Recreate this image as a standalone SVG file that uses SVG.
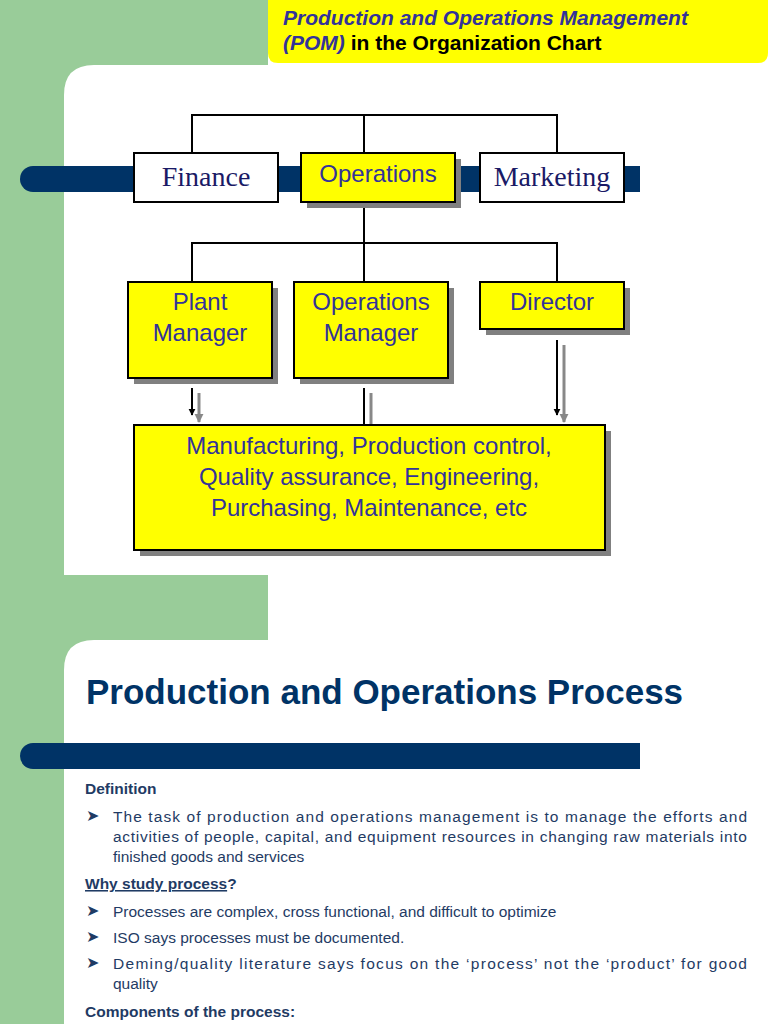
<svg xmlns="http://www.w3.org/2000/svg" width="768" height="1024" viewBox="0 0 768 1024">
<style>
.box{stroke:#000;stroke-width:2}
.y{fill:#ffff00}
.w{fill:#fff}
.sh{fill:#808080}
.ln{stroke:#000;stroke-width:2;fill:none}
.gl{stroke:#888;stroke-width:3;fill:none}
.t{font-family:"Liberation Sans",Arial,sans-serif;fill:#333399;font-size:24px;text-anchor:middle}
.s{font-family:"Liberation Serif","Times New Roman",serif;fill:#1a1a66;font-size:28px;text-anchor:middle}
.b{font-family:"Liberation Sans",Arial,sans-serif;fill:#1f3b64;font-size:15.5px}
.bh{font-weight:bold}
</style>
<defs>
<marker id="ab" viewBox="0 0 10 10" refX="9" refY="5" markerWidth="3.5" markerHeight="4" orient="auto"><path d="M0,0L10,5L0,10z" fill="#000"/></marker>
<marker id="ag" viewBox="0 0 10 10" refX="9" refY="5" markerWidth="3" markerHeight="3.5" orient="auto"><path d="M0,0L10,5L0,10z" fill="#888"/></marker>
</defs>
<rect width="768" height="1024" fill="#fff"/>
<g id="background">
<rect x="0" y="0" width="64" height="1024" fill="#99cc99"/>
<rect x="0" y="0" width="268" height="100" fill="#99cc99"/>
<rect x="0" y="560" width="268" height="110" fill="#99cc99"/>
<path d="M64,95 Q64,65 94,65 L768,65 L768,575 L64,575 Z" fill="#fff"/>
<path d="M64,670 Q64,640 94,640 L768,640 L768,1024 L64,1024 Z" fill="#fff"/>
<path d="M268,0 L768,0 L768,53 Q768,63 758,63 L278,63 Q268,63 268,53 Z" fill="#ffff00"/>
<path d="M33,166 L640,166 L640,192 L33,192 A13,13 0 0 1 33,166 Z" fill="#003366"/>
<path d="M33,743 L640,743 L640,769 L33,769 A13,13 0 0 1 33,743 Z" fill="#003366"/>
</g>
<g id="title">
<text x="283" y="25" font-family="Liberation Sans,Arial,sans-serif" font-size="21" font-weight="bold" font-style="italic" fill="#333399">Production and Operations Management</text>
<text x="283" y="50" font-family="Liberation Sans,Arial,sans-serif" font-size="21" font-weight="bold" fill="#000"><tspan font-style="italic" fill="#333399">(POM)</tspan> in the Organization Chart</text>
</g>
<g id="connectors">
<path class="ln" d="M192,153 V115 H557 V153 M364,115 V153"/>
<path class="ln" d="M364,202 V282 M192,282 V243 H557 V282"/>
<line class="ln" x1="192" y1="388" x2="192" y2="415" marker-end="url(#ab)"/>
<line class="gl" x1="199" y1="393" x2="199" y2="422" marker-end="url(#ag)"/>
<line class="ln" x1="364" y1="388" x2="364" y2="425"/>
<line class="gl" x1="371" y1="393" x2="371" y2="425"/>
<line class="ln" x1="557" y1="340" x2="557" y2="415" marker-end="url(#ab)"/>
<line class="gl" x1="564" y1="345" x2="564" y2="422" marker-end="url(#ag)"/>
</g>
<g id="finance"><rect class="box w" x="134" y="153" width="144" height="49"/><text class="s" x="206" y="186">Finance</text></g>
<g id="operations"><rect class="sh" x="307" y="159" width="154" height="49"/><rect class="box y" x="301" y="153" width="154" height="49"/><text class="t" x="378" y="182">Operations</text></g>
<g id="marketing"><rect class="box w" x="480" y="153" width="144" height="49"/><text class="s" x="552" y="186">Marketing</text></g>
<g id="plant"><rect class="sh" x="134" y="288" width="144" height="96"/><rect class="box y" x="128" y="282" width="144" height="96"/><text class="t" x="200" y="310">Plant</text><text class="t" x="200" y="341">Manager</text></g>
<g id="opsmgr"><rect class="sh" x="300" y="288" width="154" height="96"/><rect class="box y" x="294" y="282" width="154" height="96"/><text class="t" x="371" y="310">Operations</text><text class="t" x="371" y="341">Manager</text></g>
<g id="director"><rect class="sh" x="486" y="288" width="144" height="47"/><rect class="box y" x="480" y="282" width="144" height="47"/><text class="t" x="552" y="310">Director</text></g>
<g id="functions"><rect class="sh" x="140" y="431" width="471" height="125"/><rect class="box y" x="134" y="425" width="471" height="125"/>
<text class="t" x="369" y="454">Manufacturing, Production control,</text>
<text class="t" x="369" y="485">Quality assurance, Engineering,</text>
<text class="t" x="369" y="516">Purchasing, Maintenance, etc</text></g>
<g id="slide2">
<text x="86" y="704" font-family="Liberation Sans,Arial,sans-serif" font-size="35" font-weight="bold" fill="#003366">Production and Operations Process</text>
<text class="b bh" x="85" y="794">Definition</text>
<text class="b" x="86" y="821" font-size="11">&#x27A4;</text>
<text class="b" x="113" y="822" textLength="634" lengthAdjust="spacing">The task of production and operations management is to manage the efforts and</text>
<text class="b" x="113" y="842" textLength="634" lengthAdjust="spacing">activities of people, capital, and equipment resources in changing raw materials into</text>
<text class="b" x="113" y="862">finished goods and services</text>
<text class="b bh" x="85" y="889"><tspan text-decoration="underline">Why study process</tspan>?</text>
<text class="b" x="86" y="916" font-size="11">&#x27A4;</text>
<text class="b" x="113" y="917">Processes are complex, cross functional, and difficult to optimize</text>
<text class="b" x="86" y="942" font-size="11">&#x27A4;</text>
<text class="b" x="113" y="943">ISO says processes must be documented.</text>
<text class="b" x="86" y="968" font-size="11">&#x27A4;</text>
<text class="b" x="113" y="969" textLength="634" lengthAdjust="spacing">Deming/quality literature says focus on the ‘process’ not the ‘product’ for good</text>
<text class="b" x="113" y="989">quality</text>
<text class="b bh" x="85" y="1017">Components of the process:</text>
</g>
</svg>
